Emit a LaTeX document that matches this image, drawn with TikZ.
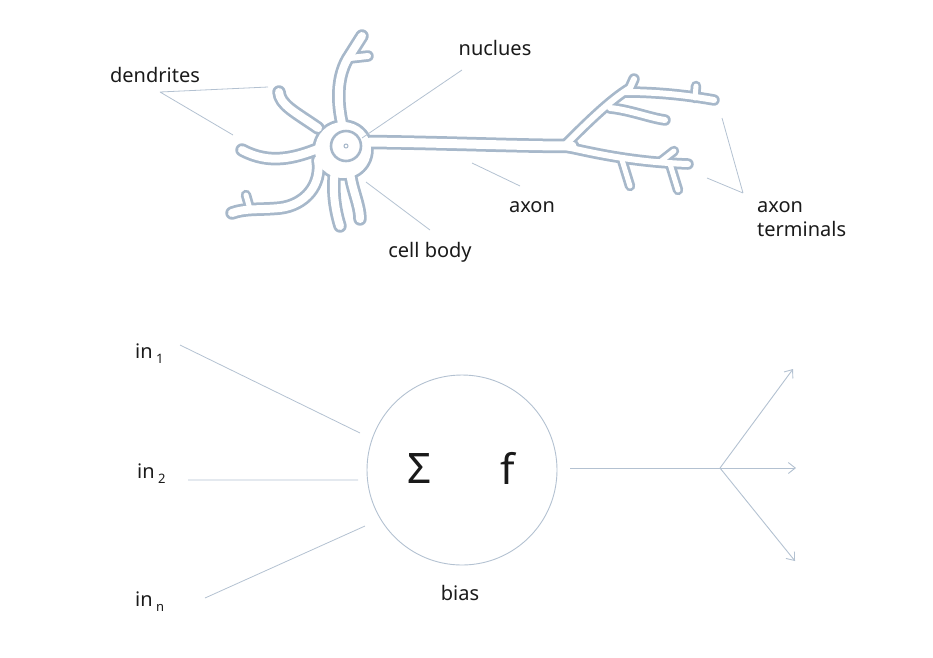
\documentclass[tikz,border=0pt]{standalone}
\usepackage{fontspec}
\setmainfont{Noto Sans}
\usetikzlibrary{arrows.meta}
\definecolor{nc}{HTML}{A7B8CA}
\definecolor{lc}{HTML}{B3C1D1}
\definecolor{tc}{HTML}{1A1A1A}
\newcommand\mybranches[2]{%
 \begin{scope}[line cap=round,line join=round,draw=#1]
 % axon
 \draw[line width=#2+9pt] (370,142) .. controls (450,143) and (520,146) .. (572,146);
 % dendrites
 \draw[line width=#2+8pt] (345,135) .. controls (336,105) and (336,75) .. (350,55) -- (362,36);
 \draw[line width=#2+6pt] (350,58) -- (368,56);
 \draw[line width=#2+8pt] (318,128) .. controls (295,112) and (280,105) .. (279,92);
 \draw[line width=#2+8pt] (320,148) .. controls (295,158) and (270,165) .. (242,150);
 \draw[line width=#2+8pt] (318,160) .. controls (322,185) and (305,205) .. (280,208) .. controls (260,210) and (245,208) .. (232,213);
 \draw[line width=#2+5pt] (246,195) -- (250,209);
 \draw[line width=#2+8pt] (335,170) .. controls (332,190) and (335,210) .. (340,226);
 \draw[line width=#2+8pt] (350,172) .. controls (352,190) and (360,205) .. (360,219);
 % terminals
 \draw[line width=#2+6pt] (565,145) .. controls (585,125) and (610,100) .. (630,88) -- (634,79);
 \draw[line width=#2+6pt] (625,92) .. controls (650,92) and (680,94) .. (714,100);
 \draw[line width=#2+5pt] (695,98) -- (696,86);
 \draw[line width=#2+6pt] (610,108) .. controls (630,110) and (650,118) .. (665,120);
 \draw[line width=#2+6pt] (566,147) .. controls (590,152) and (630,162) .. (688,164);
 \draw[line width=#2+5pt] (622,160) -- (630,186);
 \draw[line width=#2+5pt] (670,164) -- (678,190);
 \draw[line width=#2+5pt] (660,162) -- (674,151);
 \fill[#1] (343,150) circle (28pt+#2/2);
 \end{scope}}
\begin{document}
\begin{tikzpicture}[x=1pt,y=-1pt,
  lead/.style={draw=lc,line width=0.8pt},
  lab/.style={text=tc,font=\fontsize{20}{24}\selectfont,inner sep=0pt},
  inl/.style={lab,anchor=base west},
  arr/.style={draw=lc,line width=0.9pt,-{Straight Barb[length=7pt,width=11pt]}}]
\useasboundingbox (0,0) rectangle (933,657);
\mybranches{nc}{5.5pt}
\mybranches{white}{0pt}
\draw[nc,line width=2.6pt] (346,146) circle (15);
\draw[nc,line width=1pt] (346,146) circle (2);
% labels
\node[lab] (den) at (155,75) {dendrites};
\coordinate (d0) at (160,92);
\coordinate (d1) at (268,87);
\coordinate (d2) at (233,135);
\draw[lead] (d0) -- (d1) (d0) -- (d2);
\node[lab] (nuc) at (495,48) {nuclues};
\coordinate (n1) at (462,70); \coordinate (n2) at (362,138);
\draw[lead] (n1) -- (n2);
\node[lab] (ax) at (532,207) {axon};
\coordinate (a1) at (472,163); \coordinate (a2) at (520,186);
\draw[lead] (a1) -- (a2);
\node[lab] (cb) at (430,252) {cell body};
\coordinate (c1) at (366,182); \coordinate (c2) at (430,230);
\draw[lead] (c1) -- (c2);
\node[lab,align=left,anchor=west] (at) at (757,219) {axon\\terminals};
\coordinate (t0) at (743,193); \coordinate (t1) at (722,118); \coordinate (t2) at (707,178);
\draw[lead] (t0) -- (t1) (t0) -- (t2);
% perceptron
\node[draw=lc,line width=0.9pt,circle,minimum size=190pt] (neu) at (462,470) {};
\node[lab,font=\fontsize{42}{46}\selectfont] (sig) at (420,468) {Σ};
\node[lab,font=\fontsize{42}{46}\selectfont] (ff) at (508,468) {f};
\node[lab] (bias) at (460,593) {bias};
\node[inl] (i1) at (135,358) {in\,\raisebox{-5pt}{\fontsize{13}{14}\selectfont 1}};
\node[inl] (i2) at (137,478) {in\,\raisebox{-5pt}{\fontsize{13}{14}\selectfont 2}};
\node[inl] (in) at (135,606) {in\,\raisebox{-5pt}{\fontsize{13}{14}\selectfont n}};
\coordinate (p1) at (180,345); \coordinate (q1) at (360,433);
\coordinate (p2) at (188,480); \coordinate (q2) at (358,480);
\coordinate (p3) at (205,598); \coordinate (q3) at (365,526);
\draw[lead] (p1) -- (q1) (p2) -- (q2) (p3) -- (q3);
\coordinate (o0) at (570,468); \coordinate (fk) at (720,468);
\coordinate (e1) at (793,369); \coordinate (e2) at (796,468); \coordinate (e3) at (795,561);
\draw[lead] (o0) -- (fk);
\draw[arr] (fk) -- (e1);
\draw[arr] (fk) -- (e2);
\draw[arr] (fk) -- (e3);
\end{tikzpicture}
\end{document}
